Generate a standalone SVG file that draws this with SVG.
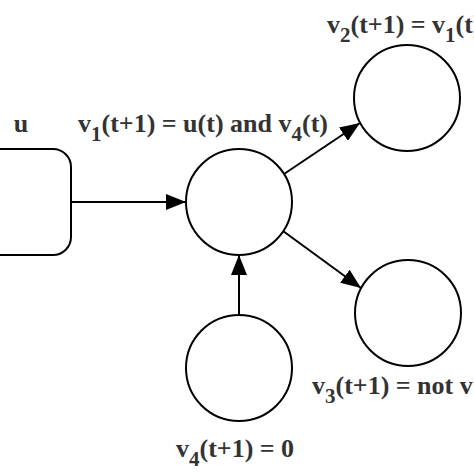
<svg xmlns="http://www.w3.org/2000/svg" width="474" height="474" viewBox="0 0 474 474">
<style>
.node{fill:#ffffff;stroke:#000000;stroke-width:2}
.edge{fill:none;stroke:#000000;stroke-width:2}
.lbl{font-family:"Liberation Serif","Times New Roman",serif;font-weight:700;font-size:26px;fill:#333333}
.sub{font-size:21px}
</style>
<defs>
<marker id="arr" markerUnits="userSpaceOnUse" markerWidth="20" markerHeight="16" refX="20" refY="8" orient="auto">
<path d="M0,0 L20,8 L0,16 z" fill="#000000"/>
</marker>
</defs>
<rect width="474" height="474" fill="#ffffff"/>
<g id="connectors">
<path class="edge" d="M71,202 L186,202" marker-end="url(#arr)"/>
<path class="edge" d="M239,315 L239,255" marker-end="url(#arr)"/>
<path class="edge" d="M284,174 L360,123" marker-end="url(#arr)"/>
<path class="edge" d="M283,231 L361,288" marker-end="url(#arr)"/>
</g>
<g id="node-u">
<rect class="node" x="-40" y="149" width="111" height="106" rx="18" ry="18"/>
<text class="lbl" x="21" y="132" text-anchor="middle">u</text>
</g>
<g id="node-v1">
<circle class="node" cx="239" cy="202" r="53"/>
<text class="lbl" x="78" y="132">v<tspan class="sub" dy="9">1</tspan><tspan dy="-9">(t+1) = u(t) and v</tspan><tspan class="sub" dy="9">4</tspan><tspan dy="-9">(t)</tspan></text>
</g>
<g id="node-v2">
<circle class="node" cx="407" cy="98" r="53"/>
<text class="lbl" x="327" y="33">v<tspan class="sub" dy="9">2</tspan><tspan dy="-9">(t+1) = v</tspan><tspan class="sub" dy="9">1</tspan><tspan dy="-9">(t)</tspan></text>
</g>
<g id="node-v3">
<circle class="node" cx="408" cy="313" r="53"/>
<text class="lbl" x="312" y="394">v<tspan class="sub" dy="9">3</tspan><tspan dy="-9">(t+1) = not v</tspan><tspan class="sub" dy="9">1</tspan><tspan dy="-9">(t)</tspan></text>
</g>
<g id="node-v4">
<circle class="node" cx="239" cy="368" r="53"/>
<text class="lbl" x="176" y="457">v<tspan class="sub" dy="9">4</tspan><tspan dy="-9">(t+1) = 0</tspan></text>
</g>
</svg>
